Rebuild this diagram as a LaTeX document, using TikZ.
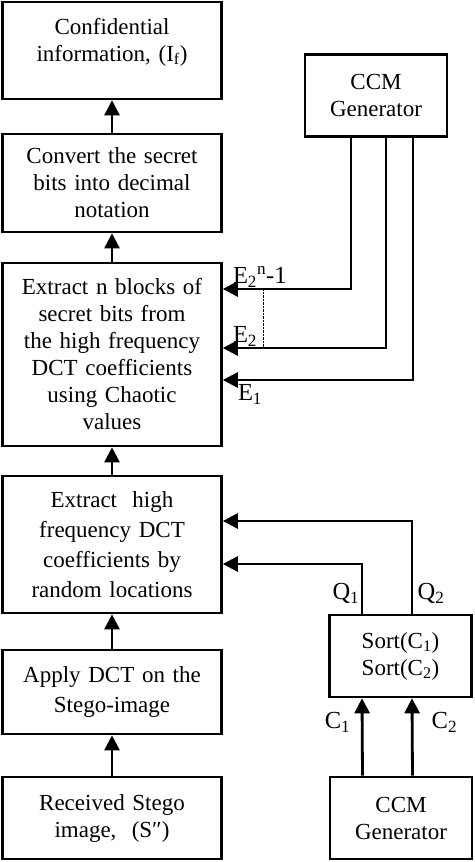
\documentclass[tikz,border=0pt]{standalone}
\usepackage{fontspec}
\setmainfont{Liberation Serif}
\usetikzlibrary{positioning, arrows.meta}
\tikzstyle{process} = [rectangle,
minimum width=219pt,
text centered,
text width=212pt,
inner sep=3pt,
draw=black,
line width=2.6pt,
font=\fontsize{23}{27}\selectfont]
\tikzstyle{generator} = [rectangle,
minimum width=142pt,
minimum height=82pt,
text centered,
text width=136pt,
inner sep=3pt,
draw=black,
line width=2.6pt,
font=\fontsize{23}{27}\selectfont]
\tikzstyle{tag} = [inner sep=1pt, font=\fontsize{24.5}{28}\selectfont]
\tikzstyle{arrow} = [line width=2.8pt,-{Triangle[length=15pt,width=15pt]}]

\begin{document}
\begin{tikzpicture}[x=1pt, y=1pt, node distance=150pt]
    \useasboundingbox (0,0) rectangle (474,-862);

    \node (info) [process, minimum height=97pt] at (112,-50.5) {Confidential\\
    information, (I\textsubscript{f})\\[-5pt]\mbox{}};

    \node (convert) [process, minimum height=98pt, below of=info, yshift=17.5pt] {Convert the secret\\
    bits into decimal\\
    notation};

    \node (extractn) [process, minimum height=183pt, below of=convert, yshift=-21.5pt] {Extract n blocks of\\
    secret bits from\\
    the high frequency\\
    DCT coefficients\\
    using Chaotic\\
    values};

    \node (extracthf) [process, minimum height=137pt, below of=extractn, yshift=-40pt,
        font=\fontsize{23}{30}\selectfont] {Extract~ high\\
    frequency DCT\\
    coefficients by\\
    random locations};

    \node (dct) [process, minimum height=84pt, below of=extracthf, yshift=2.5pt,
        font=\fontsize{23}{30}\selectfont] {Apply DCT on the\\
    Stego-image};

    \node (received) [process, minimum height=82pt, below of=dct, yshift=24pt] {Received Stego\\
    image,~ (S″)};

    \node (ccmtop) [generator, minimum height=82.5pt, right of=info, xshift=114pt, yshift=-45pt] {CCM\\
    Generator};

    \node (sort) [generator, right of=extracthf, xshift=138.5pt, yshift=-111.5pt] {Sort(C\textsubscript{1})\\
    Sort(C\textsubscript{2})};

    \node (ccmbot) [generator, right of=received, xshift=139pt] {CCM\\
    Generator};

    % main chain
    \draw [arrow] (received) -- (dct);
    \draw [arrow] (dct) -- (extracthf);
    \draw [arrow] (extracthf) -- (extractn);
    \draw [arrow] (extractn) -- (convert);
    \draw [arrow] (convert) -- (info);

    % chaotic values into the extraction
    \draw [arrow] ([xshift=-25pt]ccmtop.south) |- ([yshift=65.5pt]extractn.east);
    \draw [arrow] ([xshift=10pt]ccmtop.south) |- ([yshift=6.5pt]extractn.east);
    \draw [arrow] ([xshift=37pt]ccmtop.south) |- ([yshift=-25.5pt]extractn.east);
    \coordinate (en) at ([xshift=40pt, yshift=65.5pt]extractn.east);
    \coordinate (etwo) at ([xshift=40pt, yshift=6.5pt]extractn.east);
    \draw [densely dotted, thin] (en) -- (etwo);

    \node (lblen) [tag, anchor=south west] at ([xshift=9pt, yshift=66pt]extractn.east) {E\textsubscript{2}\textsuperscript{n}-1};
    \node (lbletwo) [tag, anchor=south west] at ([xshift=9pt, yshift=7pt]extractn.east) {E\textsubscript{2}};
    \node (lbleone) [tag, anchor=north west] at ([xshift=14pt, yshift=-29pt]extractn.east) {E\textsubscript{1}};

    % sorted values into the coefficient selection
    \draw [arrow] ([xshift=-38.5pt]sort.north) |- ([yshift=-19.5pt]extracthf.east);
    \draw [arrow] ([xshift=11.5pt]sort.north) |- ([yshift=23.5pt]extracthf.east);
    \node (lblqone) [tag, anchor=south east] at ([xshift=-40pt, yshift=9pt]sort.north) {Q\textsubscript{1}};
    \node (lblqtwo) [tag, anchor=south west] at ([xshift=16pt, yshift=9pt]sort.north) {Q\textsubscript{2}};

    % generator into sorting
    \draw [arrow] ([xshift=-38.5pt]ccmbot.north) -- ([xshift=-38.5pt]sort.south);
    \draw [arrow] ([xshift=11.5pt]ccmbot.north) -- ([xshift=11.5pt]sort.south);
    \node (lblcone) [tag, anchor=east] at ([xshift=-49pt, yshift=-24pt]sort.south) {C\textsubscript{1}};
    \node (lblctwo) [tag, anchor=west] at ([xshift=30pt, yshift=-24pt]sort.south) {C\textsubscript{2}};
\end{tikzpicture}
\end{document}
